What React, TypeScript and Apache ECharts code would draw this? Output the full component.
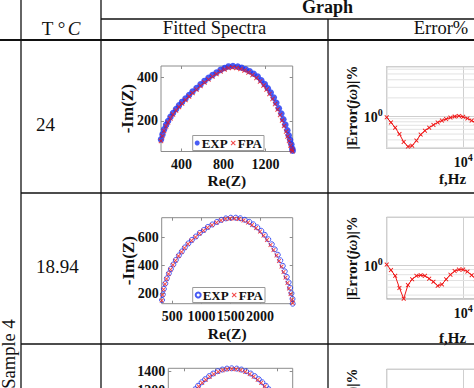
import React, { useEffect, useRef } from 'react';
import * as echarts from 'echarts';

const SERIF = "'Liberation Serif', 'Times New Roman', serif";
const BLUE = '#1a33f2';
const RED = '#f01616';
const BOX = '#8c8c8c';
const TXT = '#111111';
const LINE = '#111111';
const MAJOR = '#cfcfcf';
const MINOR = '#e2e2e2';

// ---- table texts ----
const headerGraph = 'Graph';
const headerSpectra = 'Fitted Spectra';
const headerError = 'Error%';
const sampleName = 'Sample 4';
const temperatures = ['24', '18.94'];

// ---- Nyquist, row 1 (T = 24) ----
const fpaRe1 = [205, 219, 234, 253, 272, 295, 319, 348, 376, 405, 438, 472, 505, 543, 581, 619, 657, 695, 733, 772, 810, 848, 886, 924, 962, 1000, 1038, 1076, 1114, 1148, 1181, 1210, 1238, 1267, 1291, 1315, 1339, 1358, 1377, 1396, 1410, 1424, 1438, 1450, 1457];
const fpaIm1 = [108, 131, 154, 175, 193, 212, 230, 248, 265, 281, 297, 313, 329, 345, 362, 378, 392, 405, 417, 429, 438, 445, 447, 445, 440, 433, 424, 412, 399, 382, 364, 345, 325, 302, 278, 253, 228, 202, 177, 151, 128, 108, 87, 68, 60];
const expRe1 = [205, 219, 234, 253, 272, 295, 319, 348, 376, 405, 438, 472, 505, 543, 581, 619, 657, 695, 733, 772, 810, 848, 890, 936, 974, 1012, 1050, 1088, 1126, 1160, 1193, 1222, 1250, 1279, 1303, 1327, 1351, 1370, 1389, 1408, 1421, 1434, 1446, 1455, 1459];
const expIm1 = [115, 138, 161, 182, 200, 219, 237, 255, 272, 288, 304, 320, 336, 352, 369, 385, 399, 412, 424, 436, 445, 452, 454, 451, 446, 439, 430, 418, 405, 388, 370, 351, 331, 308, 284, 259, 234, 208, 183, 157, 134, 113, 92, 72, 63];

// ---- Nyquist, row 2 (T = 18.94) ----
const fpaRe2 = [321, 335, 352, 377, 403, 437, 471, 514, 556, 608, 659, 710, 770, 830, 898, 966, 1035, 1103, 1180, 1257, 1334, 1411, 1488, 1565, 1641, 1718, 1795, 1863, 1932, 2000, 2060, 2119, 2179, 2230, 2282, 2324, 2367, 2401, 2435, 2469, 2495, 2521, 2546, 2558];
const fpaIm2 = [146, 186, 226, 265, 302, 338, 370, 403, 435, 468, 497, 526, 555, 580, 605, 631, 652, 674, 692, 710, 725, 736, 739, 739, 736, 725, 710, 692, 670, 645, 616, 584, 548, 511, 472, 432, 392, 352, 312, 273, 233, 193, 153, 128];
const expRe2 = [327, 341, 358, 383, 409, 443, 477, 520, 562, 614, 665, 716, 776, 836, 904, 972, 1041, 1109, 1186, 1263, 1340, 1417, 1500, 1585, 1663, 1740, 1817, 1885, 1954, 2022, 2082, 2141, 2201, 2252, 2304, 2346, 2389, 2423, 2457, 2489, 2514, 2537, 2555, 2558];
const expIm2 = [150, 190, 230, 269, 306, 342, 374, 407, 439, 472, 501, 530, 559, 584, 609, 635, 656, 678, 696, 714, 729, 740, 745, 745, 741, 730, 715, 697, 675, 650, 621, 589, 553, 516, 477, 437, 397, 357, 317, 278, 238, 198, 158, 123];

// ---- Nyquist, row 3 (only the top of the arc is visible) ----
const fpaRe3 = [1123, 1204, 1284, 1381, 1477, 1590, 1702, 1831, 1959, 2104, 2249, 2393, 2538, 2683, 2827, 2972, 3117, 3245, 3374, 3486, 3599, 3695, 3792, 3872, 3953];
const fpaIm3 = [1077, 1128, 1165, 1212, 1248, 1284, 1316, 1348, 1375, 1399, 1416, 1426, 1429, 1426, 1416, 1399, 1375, 1348, 1316, 1284, 1248, 1212, 1165, 1128, 1077];
const expRe3 = [1100, 1182, 1262, 1360, 1456, 1570, 1684, 1813, 1943, 2090, 2238, 2385, 2538, 2700, 2852, 3002, 3150, 3280, 3410, 3524, 3638, 3735, 3832, 3912, 3993];
const expIm3 = [1083, 1134, 1171, 1218, 1254, 1290, 1322, 1354, 1381, 1405, 1422, 1432, 1435, 1432, 1422, 1405, 1381, 1354, 1322, 1290, 1254, 1218, 1171, 1134, 1083];

// ---- Nyquist tick labels ----
const nyqXTicks1 = [400, 800, 1200];
const nyqYTicks1 = [200, 400];
const nyqXTicks2 = [500, 1000, 1500, 2000];
const nyqYTicks2 = [200, 400, 600];
const nyqXTicks3 = [1000, 2000, 3000, 4000];
const nyqYTicks3 = [600, 800, 1000, 1200, 1400];

// ---- Error %, frequency (Hz) and |Error(jw)|% ----
const freq = [1259, 1413, 1585, 1778, 1995, 2239, 2512, 2818, 3162, 3548, 3981, 4467, 5012, 5623, 6310, 7079, 7943, 8913, 10000, 11220, 12589, 14125, 15849];
const err1 = [0.95, 0.78, 0.64, 0.50, 0.37, 0.31, 0.32, 0.39, 0.49, 0.57, 0.64, 0.71, 0.78, 0.84, 0.89, 0.94, 0.98, 1.0, 0.97, 0.91, 0.84, 0.77, 0.70];
const err2 = [1.01, 0.89, 0.78, 0.59, 0.46, 0.63, 0.72, 0.78, 0.79, 0.78, 0.73, 0.68, 0.62, 0.64, 0.72, 0.80, 0.87, 0.90, 0.90, 0.86, 0.79, 0.72, 0.65];
const minorGrid1 = [0.3, 0.4, 0.5, 0.6, 0.7, 0.8, 0.9, 2, 3, 4, 5, 6];
const minorGrid2 = [0.5, 0.6, 0.7, 0.8, 0.9];

// axis limits
const E_XMIN = 1259;
const E_XMAX = 44668;

const X_PATH = 'path://M0,1.4L1.4,0L5,3.6L8.6,0L10,1.4L6.4,5L10,8.6L8.6,10L5,6.4L1.4,10L0,8.6L3.6,5Z';

const zip = (xs: number[], ys: number[]) => xs.map((x, i) => [x, ys[i]]);

const plainLabel = (v: number) => String(Math.round(v));
const powerLabel = (v: number) => {
  const e = Math.log10(v);
  const r = Math.round(e);
  return Math.abs(e - r) < 1e-6 ? `{b|10}{s|${r}}` : '';
};
const powRich = {
  b: { fontFamily: SERIF, fontWeight: 'bold', fontSize: 14, color: TXT, padding: [3, 0, 0, 0] },
  s: { fontFamily: SERIF, fontWeight: 'bold', fontSize: 10, color: TXT, verticalAlign: 'top' },
};

const nameStyle = (size: number) => ({ fontFamily: SERIF, fontWeight: 'bold', fontSize: size, color: TXT });
const labelStyle = { fontFamily: SERIF, fontWeight: 'bold', fontSize: 14, color: TXT };

function nyqAxes(g: number, xr: number[], yr: number[], xt: number[], yt: number[], xGap: number) {
  const tick = (vals: number[]) => ({ show: true, inside: true, length: 3, lineStyle: { color: BOX, width: 1 }, customValues: vals });
  return {
    x: [
      {
        type: 'value', gridIndex: g, min: xr[0], max: xr[1], position: 'bottom',
        name: 'Re(Z)', nameLocation: 'middle', nameGap: xGap, nameMoveOverlap: false, nameTextStyle: nameStyle(15.5),
        axisLine: { show: false }, axisTick: tick(xt),
        axisLabel: { show: true, margin: 6, ...labelStyle, customValues: xt, formatter: plainLabel },
        splitLine: { show: false },
      },
      {
        type: 'value', gridIndex: g, min: xr[0], max: xr[1], position: 'top',
        axisLine: { show: false }, axisTick: tick(xt), axisLabel: { show: false }, splitLine: { show: false },
      },
    ],
    y: [
      {
        type: 'value', gridIndex: g, min: yr[0], max: yr[1], position: 'left',
        name: '-Im(Z)', nameLocation: 'middle', nameGap: 25, nameMoveOverlap: false, nameTextStyle: nameStyle(17),
        axisLine: { show: false }, axisTick: tick(yt),
        axisLabel: { show: true, margin: 3, ...labelStyle, customValues: yt, formatter: plainLabel },
        splitLine: { show: false },
      },
      {
        type: 'value', gridIndex: g, min: yr[0], max: yr[1], position: 'right',
        axisLine: { show: false }, axisTick: tick(yt), axisLabel: { show: false }, splitLine: { show: false },
      },
    ],
  };
}

function errAxes(g: number, yr: number[], xGap: number) {
  return {
    x: {
      type: 'log', logBase: 10, gridIndex: g, min: E_XMIN, max: E_XMAX, position: 'bottom',
      name: 'f,Hz', nameLocation: 'middle', nameGap: xGap, nameMoveOverlap: false, nameTextStyle: nameStyle(15),
      axisLine: { show: false }, axisTick: { show: false },
      axisLabel: { show: true, margin: 4, formatter: powerLabel, rich: powRich },
      splitLine: { show: true, lineStyle: { color: MAJOR, width: 1 } },
    },
    y: {
      type: 'log', logBase: 10, gridIndex: g, min: yr[0], max: yr[1], position: 'left',
      name: '|Error({i|jω})|%', nameLocation: 'middle', nameGap: 27, nameMoveOverlap: false,
      nameTextStyle: { ...nameStyle(15), rich: { i: { fontFamily: SERIF, fontWeight: 'bold', fontStyle: 'italic', fontSize: 15, color: TXT } } },
      axisLine: { show: false }, axisTick: { show: false },
      axisLabel: { show: true, margin: 4, formatter: powerLabel, rich: powRich },
      splitLine: { show: true, lineStyle: { color: MAJOR, width: 1 } },
    },
  };
}

const gridLineItem = (params: any, api: any) => {
  const v = api.value(1);
  const a = api.coord([E_XMIN, v]);
  const b = api.coord([E_XMAX, v]);
  return { type: 'line', shape: { x1: a[0], y1: a[1], x2: b[0], y2: b[1] }, style: { stroke: MINOR, lineWidth: 1 }, silent: true };
};

function buildOption() {
  const grids = [
    { left: 161, top: 66, width: 131.7, height: 85.5 },
    { left: 386.7, top: 66.7, width: 131.7, height: 81.6 },
    { left: 161.7, top: 217.7, width: 131, height: 86 },
    { left: 386.7, top: 217.3, width: 131.7, height: 81.7 },
    { left: 168.3, top: 368.3, width: 124.4, height: 99.9 },
    { left: 386.7, top: 369.3, width: 131.7, height: 82 },
  ].map((g) => ({ ...g, show: true, borderColor: BOX, borderWidth: 1, backgroundColor: 'transparent', containLabel: false, outerBoundsMode: 'none' }));

  const n1 = nyqAxes(0, [205, 1459], [59, 454], nyqXTicks1, nyqYTicks1, 21);
  const e1 = errAxes(1, [0.29, 6.6], 23.5);
  const n2 = nyqAxes(2, [321, 2558], [123, 745], nyqXTicks2, nyqYTicks2, 21.5);
  const e2 = errAxes(3, [0.457, 3.0], 31);
  const n3 = nyqAxes(4, [500, 4500], [400, 1435], nyqXTicks3, nyqYTicks3, 21.5);
  const e3 = errAxes(5, [0.1, 5], 24);

  const xAxis = [n1.x[0], e1.x, n2.x[0], e2.x, n3.x[0], e3.x, n1.x[1], n2.x[1], n3.x[1]];
  const yAxis = [n1.y[0], e1.y, n2.y[0], e2.y, n3.y[0], e3.y, n1.y[1], n2.y[1], n3.y[1]];

  const filled = (idx: number, name: string, data: number[][], size: number) => ({
    type: 'scatter', name, xAxisIndex: idx, yAxisIndex: idx, data, symbol: 'circle', symbolSize: size,
    itemStyle: { color: BLUE }, clip: false, silent: true, z: 2,
  });
  const hollow = (idx: number, name: string, data: number[][], size: number) => ({
    type: 'scatter', name, xAxisIndex: idx, yAxisIndex: idx, data, symbol: 'circle', symbolSize: size,
    itemStyle: { color: 'transparent', borderColor: BLUE, borderWidth: 1 }, clip: false, silent: true, z: 2,
  });
  const cross = (idx: number, name: string, data: number[][], size: number) => ({
    type: 'scatter', name, xAxisIndex: idx, yAxisIndex: idx, data, symbol: X_PATH, symbolSize: size,
    itemStyle: { color: RED }, clip: false, silent: true, z: 3,
  });
  const errLine = (idx: number, name: string, ys: number[]) => ({
    type: 'line', name, xAxisIndex: idx, yAxisIndex: idx, data: zip(freq, ys), symbol: X_PATH, symbolSize: 4.5,
    showSymbol: true, showAllSymbol: true, lineStyle: { color: RED, width: 1 }, itemStyle: { color: RED }, silent: true, z: 3,
  });
  const minor = (idx: number, vals: number[]) => ({
    type: 'custom', xAxisIndex: idx, yAxisIndex: idx, data: vals.map((v) => [E_XMIN, v]), renderItem: gridLineItem, silent: true, z: 1,
  });

  const series = [
    filled(0, 'EXP·1', zip(expRe1, expIm1), 6.5),
    cross(0, 'FPA·1', zip(fpaRe1, fpaIm1), 5),
    minor(1, minorGrid1),
    errLine(1, 'Error·1', err1),
    hollow(2, 'EXP·2', zip(expRe2, expIm2), 5),
    cross(2, 'FPA·2', zip(fpaRe2, fpaIm2), 4.5),
    minor(3, minorGrid2),
    errLine(3, 'Error·2', err2),
    hollow(4, 'EXP·3', zip(expRe3, expIm3), 5),
    cross(4, 'FPA·3', zip(fpaRe3, fpaIm3), 4.5),
  ];

  const legendBase = {
    show: true, orient: 'horizontal', itemWidth: 5, itemHeight: 7, itemGap: 3, padding: [1, 2, 1, 2],
    backgroundColor: '#ffffff', borderColor: '#9a9a9a', borderWidth: 1, selectedMode: false,
    formatter: (n: string) => n.split('·')[0],
    textStyle: { fontFamily: SERIF, fontWeight: 'bold', fontSize: 13, color: TXT, padding: [0, 0, 0, -3] },
  };
  const legend = [
    { ...legendBase, left: 192.7, top: 135.5, data: [{ name: 'EXP·1', icon: 'circle' }, { name: 'FPA·1', icon: X_PATH }] },
    { ...legendBase, left: 192.7, top: 287.5, data: [{ name: 'EXP·2', icon: 'circle' }, { name: 'FPA·2', icon: X_PATH }] },
  ];

  const hLine = (x1: number, x2: number, y: number, w = 1.3) => ({ type: 'line', silent: true, z: 10, shape: { x1, y1: y, x2, y2: y }, style: { stroke: LINE, lineWidth: w } });
  const vLine = (x: number, y1: number, y2: number, w = 1.3) => ({ type: 'line', silent: true, z: 10, shape: { x1: x, y1, x2: x, y2 }, style: { stroke: LINE, lineWidth: w } });
  const txt = (text: string, x: number, y: number, opts: any = {}) => ({
    type: 'text', x, y, silent: true, z: 10, rotation: opts.rotation || 0,
    style: {
      text, fill: TXT, fontFamily: SERIF, fontSize: opts.size || 19, fontWeight: opts.weight || 'normal',
      textAlign: opts.align || 'center', align: opts.align || 'center', textVerticalAlign: 'middle', verticalAlign: 'middle',
      rich: opts.rich,
    },
  });

  const graphic = [
    vLine(21, 0, 388), vLine(101, 0, 388), vLine(328, 19, 388),
    hLine(101, 474, 19), hLine(0, 474, 40, 2.2), hLine(21, 474, 193), hLine(21, 474, 344),
    txt(headerGraph, 327.5, 6.5, { weight: 'bold', size: 18 }),
    txt(headerSpectra, 214.5, 28, { size: 18.5 }),
    txt(headerError, 441, 28, { size: 18.5 }),
    txt('{n|T °}{i|C}', 61, 28, {
      rich: {
        n: { fontFamily: SERIF, fontSize: 19, color: TXT },
        i: { fontFamily: SERIF, fontSize: 19, fontStyle: 'italic', color: TXT, padding: [0, 0, 0, 2] },
      },
    }),
    txt(temperatures[0], 36, 124, { align: 'left' }),
    txt(temperatures[1], 36, 266.5, { align: 'left' }),
    txt(sampleName, 9, 354, { rotation: Math.PI / 2, size: 18.5 }),
  ];

  return {
    animation: false,
    backgroundColor: '#ffffff',
    grid: grids,
    xAxis,
    yAxis,
    legend,
    series,
    graphic,
  };
}

export default function App() {
  const ref = useRef<HTMLDivElement>(null);
  useEffect(() => {
    if (!ref.current) return;
    const chart = echarts.init(ref.current, null, { renderer: 'svg' });
    chart.setOption(buildOption() as any);
    return () => chart.dispose();
  }, []);
  return <div ref={ref} style={{ position: 'fixed', left: 0, top: 0, width: 474, height: 388, background: '#fff' }} />;
}
